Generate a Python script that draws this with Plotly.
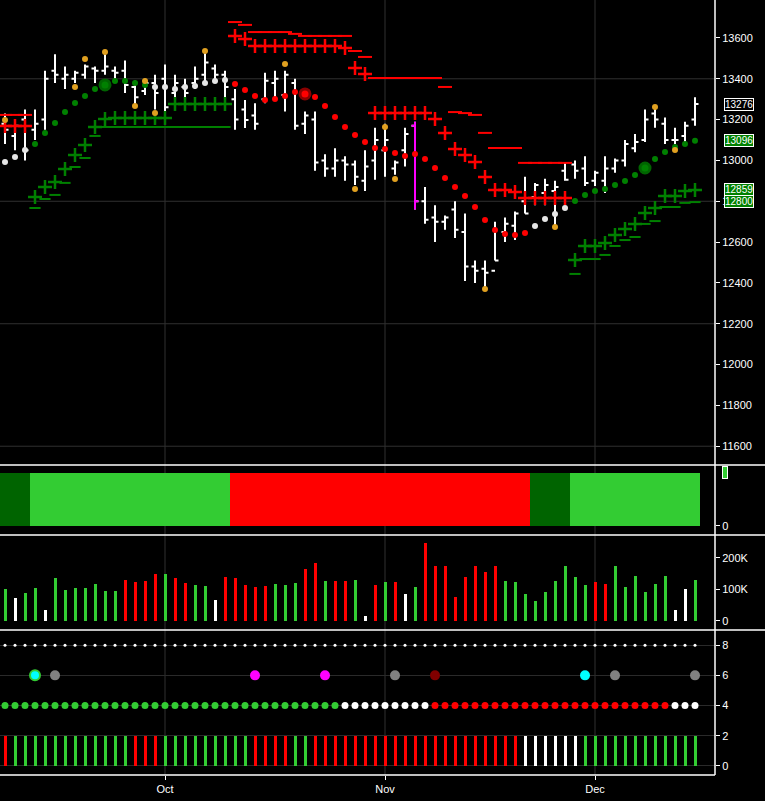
import plotly.graph_objects as go

N = 70
idx = list(range(N))
opens  = [13180,13120,13200,13150,13200,13440,13400,13400,13420,13450,13440,13440,13440,13360,13340,13380,13400,13330,13360,13380,13420,13450,13420,13300,13250,13220,13300,13380,13320,13380,13180,13200,13000,12960,13000,12980,12900,13000,13050,12960,13050,13170,12800,12720,12700,12760,12650,12480,12470,12460,12650,12680,12800,12820,12840,12850,12950,12980,12960,12900,12900,12960,13000,13060,13100,13230,13180,13100,13120,13200]
highs  = [13230,13200,13250,13250,13440,13520,13460,13440,13470,13460,13520,13460,13490,13390,13400,13420,13470,13420,13400,13460,13540,13470,13440,13350,13296,13280,13430,13440,13440,13400,13240,13240,13030,13060,13020,13000,13050,13160,13180,13000,13160,13190,12870,12780,12730,12800,12740,12510,12510,12700,12720,12750,12920,12890,12910,12900,12990,13000,13020,12950,13020,13010,13100,13130,13250,13260,13210,13160,13190,13310]
lows   = [13080,13050,13000,13100,13150,13380,13350,13380,13400,13380,13420,13380,13330,13260,13320,13250,13230,13300,13280,13350,13380,13380,13300,13150,13159,13150,13280,13300,13240,13150,13130,12950,12920,12920,12900,12880,12850,12905,12920,12930,12970,12760,12690,12600,12660,12620,12410,12400,12365,12510,12600,12610,12740,12780,12780,12670,12900,12910,12875,12875,12840,12940,12970,13040,13090,13160,13080,13080,13080,13170]
closes = [13150,13170,13050,13180,13400,13420,13420,13430,13460,13440,13460,13430,13370,13310,13380,13330,13260,13380,13330,13400,13480,13420,13360,13200,13198,13180,13390,13400,13420,13170,13220,12990,12960,13000,12980,12920,12970,13100,13100,12990,13130,12800,12710,12700,12720,12660,12480,12460,12450,12510,12690,12740,12740,12880,12880,12870,12905,12950,12890,12940,12960,13000,13080,13090,13200,13200,13100,13100,13170,13276]

sar_vals = [12992,13017,13051,13081,13135,13184,13237,13282,13316,13350,13370,13389,13389,13380,13370,13360,13360,13350,13360,13365,13380,13389,13394,13375,13345,13316,13296,13301,13316,13335,13326,13311,13267,13213,13164,13125,13090,13061,13056,13037,13022,13032,13007,12963,12914,12870,12826,12772,12708,12659,12640,12635,12645,12679,12713,12738,12767,12801,12831,12850,12860,12880,12899,12929,12963,13007,13041,13066,13081,13096]
sar_cols = ["w"]*3 + ["g"]*12 + ["w"]*8 + ["r"]*30 + ["w"]*4 + ["g"]*13
sar_big = [10, 30, 64]

orange_idx = [0,7,8,10,13,14,15,20,28,35,38,39,48,55,65,67]
orange_val = [13198,13360,13497,13531,13267,13389,13232,13536,13473,12860,13164,12909,12370,12674,13262,13051]

rcross_idx = [0,1,2,23,24,25,26,27,28,29,30,31,32,33,34,35,36,37,38,39,40,41,42,43,44,45,46,47,48,49,50,51,52,53,54,55,56]
rcross_val = [13169,13169,13169,13610,13595,13561,13561,13561,13561,13561,13561,13561,13561,13561,13551,13453,13424,13232,13232,13232,13232,13232,13232,13203,13135,13056,13027,12992,12919,12855,12855,12845,12816,12816,12816,12816,12816]
rdash_val = [13223,13223,13223,13678,13664,13629,13629,13629,13629,13620,13610,13610,13610,13610,13610,13536,13507,13404,13404,13404,13404,13404,13404,13404,13360,13237,13232,13223,13135,13061,13061,13061,12988,12988,12988,12988,12988]

gcross_idx = [3,4,5,6,7,8,9,10,11,12,13,14,15,16,17,18,19,20,21,22,57,58,59,60,61,62,63,64,65,66,67,68,69]
gcross_val = [12821,12870,12894,12958,13027,13076,13164,13203,13208,13208,13208,13208,13208,13208,13277,13277,13277,13277,13277,13277,12512,12581,12581,12595,12635,12664,12689,12743,12767,12826,12826,12850,12855]
gdash_val = [12767,12811,12831,12890,12968,13012,13120,13164,13164,13164,13164,13164,13164,13164,13164,13164,13164,13164,13164,13164,12444,12517,12517,12537,12581,12610,12625,12689,12703,12772,12772,12792,12796]

band_cols = ["dg"]*3 + ["lg"]*20 + ["r"]*30 + ["dg"]*4 + ["lg"]*13

volume = [103,74,90,106,36,136,98,106,106,117,95,95,130,124,127,149,149,136,121,114,110,68,140,136,114,108,111,117,114,121,166,183,127,127,127,130,16,114,124,124,85,108,248,173,173,75,140,173,157,173,127,124,85,62,91,127,176,140,114,124,117,176,108,143,91,117,143,36,101,130]
vol_cols = list("gwggwggggggg" + "rrrrgrrggwrrrrrggg" + "rrgrrgwrgrwg" + "rrrrrrrr" + "gggggggggrrggggggwwg")

row6_idx = [3,5,25,32,39,43,58,61,69]
row6_col = ["#00ffff","#808080","#ff00ff","#ff00ff","#808080","#800000","#00ffff","#808080","#808080"]
row4_cols = ["lg"]*34 + ["w"]*9 + ["r"]*24 + ["w"]*3
row2_cols = ["r"] + ["lg"]*12 + ["r"]*3 + ["lg"]*9 + ["r"]*4 + ["lg"]*2 + ["r"]*21 + ["w"]*6 + ["lg"]*12

C = {"w": "#e6e6e6", "g": "#008000", "r": "#ff0000", "lg": "#33cc33", "dg": "#006400"}
VC = {"w": "#ffffff", "g": "#33cc33", "r": "#ff0000", "lg": "#33cc33"}

fig = go.Figure()
fig.add_trace(go.Scatter(x=rcross_idx, y=rdash_val, mode="markers", marker=dict(symbol="line-ew", size=10, line=dict(color="#ff0000", width=2)), yaxis="y"))
fig.add_trace(go.Scatter(x=rcross_idx, y=rcross_val, mode="markers", marker=dict(symbol="cross-thin", size=10, line=dict(color="#ff0000", width=2.5)), yaxis="y"))
fig.add_trace(go.Scatter(x=gcross_idx, y=gdash_val, mode="markers", marker=dict(symbol="line-ew", size=8, line=dict(color="#008000", width=2)), yaxis="y"))
fig.add_trace(go.Scatter(x=gcross_idx, y=gcross_val, mode="markers", marker=dict(symbol="cross-thin", size=10, line=dict(color="#008000", width=2.5)), yaxis="y"))
fig.add_trace(go.Ohlc(x=idx, open=opens, high=highs, low=lows, close=closes, tickwidth=0.35,
                      increasing=dict(line=dict(color="white", width=2)), decreasing=dict(line=dict(color="white", width=2)), yaxis="y"))
fig.add_trace(go.Ohlc(x=[41], open=[opens[41]], high=[highs[41]], low=[lows[41]], close=[closes[41]], tickwidth=0.35,
                      increasing=dict(line=dict(color="#ff00ff", width=2)), decreasing=dict(line=dict(color="#ff00ff", width=2)), yaxis="y"))
small = [i for i in idx if i not in sar_big]
fig.add_trace(go.Scatter(x=small, y=[sar_vals[i] for i in small], mode="markers",
              marker=dict(size=6, color=[C[sar_cols[i]] for i in small], line=dict(width=0)), yaxis="y"))
fig.add_trace(go.Scatter(x=sar_big, y=[sar_vals[i] for i in sar_big], mode="markers",
              marker=dict(size=10, color=["#008000", "#ff0000", "#008000"], line=dict(color=["#006400", "#8b0000", "#006400"], width=3)), yaxis="y"))
fig.add_trace(go.Scatter(x=orange_idx, y=orange_val, mode="markers", marker=dict(size=6, color="#e0a020", line=dict(width=0)), yaxis="y"))

fig.add_trace(go.Bar(x=idx, y=[0.87]*N, width=1.0, marker=dict(color=[C[c] for c in band_cols], line=dict(width=0)), yaxis="y2"))
fig.add_trace(go.Bar(x=idx, y=[v*1000 for v in volume], width=0.3, marker=dict(color=[VC[c] for c in vol_cols], line=dict(width=0)), yaxis="y3"))
fig.add_trace(go.Scatter(x=idx, y=[8]*N, mode="markers", marker=dict(size=3, color="white"), yaxis="y4"))
fig.add_trace(go.Scatter(x=idx, y=[4]*N, mode="markers", marker=dict(size=7, color=[VC[c] for c in row4_cols], line=dict(width=0)), yaxis="y4"))
fig.add_trace(go.Scatter(x=row6_idx, y=[6]*len(row6_idx), mode="markers",
              marker=dict(size=10, color=row6_col, line=dict(color=["#33cc33"] + ["rgba(0,0,0,0)"]*8, width=[2] + [0]*8)), yaxis="y4"))
fig.add_trace(go.Bar(x=idx, y=[2]*N, width=0.3, marker=dict(color=[VC[c] for c in row2_cols], line=dict(width=0)), yaxis="y4"))

tf = dict(color="white", size=11, family="Liberation Sans")
yc = dict(side="right", anchor="x", showline=False, ticks="outside", ticklen=4, tickcolor="white", tickfont=tf, zeroline=False, fixedrange=True)
fig.update_layout(
    width=765, height=801, paper_bgcolor="black", plot_bgcolor="black", showlegend=False,
    margin=dict(l=0, r=50, t=0, b=26, pad=0), bargap=0,
    xaxis=dict(range=[-0.5, 71], anchor="y4", tickvals=[16, 38, 59], ticktext=["Oct", "Nov", "Dec"], tickfont=tf,
               ticks="outside", tickcolor="white", ticklen=4, showgrid=False, rangeslider=dict(visible=False), zeroline=False),
    yaxis=dict(domain=[0.4, 1], range=[11508, 13786], tickvals=list(range(11600, 13601, 200)), tickformat="d", showgrid=False, **yc),
    yaxis2=dict(domain=[0.3097, 0.4], range=[-0.15, 1.0], tickvals=[0], showgrid=False, **yc),
    yaxis3=dict(domain=[0.187, 0.3097], range=[-29000, 273000], tickvals=[0, 100000, 200000], ticktext=["0", "100K", "200K"], showgrid=False, **yc),
    yaxis4=dict(domain=[0, 0.187], range=[-0.6, 9.0], tickvals=[0, 2, 4, 6, 8], showgrid=True, gridcolor="#2a2a2a", **yc),
)
shapes = []
for yv in [13400, 12800, 12200, 11600]:
    shapes.append(dict(type="line", xref="x", yref="y", x0=-0.5, x1=71, y0=yv, y1=yv, line=dict(color="#303030", width=1), layer="below"))
for xv in [16, 38, 59]:
    shapes.append(dict(type="line", xref="x", yref="paper", x0=xv, x1=xv, y0=0, y1=1, line=dict(color="#303030", width=1), layer="below"))
for yp in [0.4, 0.3097, 0.187]:
    shapes.append(dict(type="line", xref="paper", yref="paper", x0=0, x1=1.07, y0=yp, y1=yp, line=dict(color="white", width=1.5)))
shapes.append(dict(type="line", xref="paper", yref="paper", x0=0, x1=1, y0=0, y1=0, line=dict(color="white", width=1.5)))
shapes.append(dict(type="line", xref="paper", yref="paper", x0=1, x1=1, y0=0, y1=1, line=dict(color="white", width=1.5)))
fig.update_layout(shapes=shapes)

tags = [(13276, "black", "white"), (13096, "#008000", "white"), (12859, "#008000", "white"), (12800, "#008000", "white")]
for v, bg, fc in tags:
    fig.add_annotation(xref="paper", yref="y", x=1.012, y=v, xanchor="left", text=str(v), showarrow=False,
                       bgcolor=bg, bordercolor="white", borderwidth=1, borderpad=0, font=dict(color=fc, size=10, family="Liberation Sans"))
fig.add_annotation(xref="paper", yref="y2", x=1.01, y=0.87, xanchor="left", text=" ", showarrow=False,
                   bgcolor="#33cc33", bordercolor="white", borderwidth=1, font=dict(size=7))
fig.write_html("out.html", config={"displayModeBar": False}, post_script="document.body.style.margin='0';")
